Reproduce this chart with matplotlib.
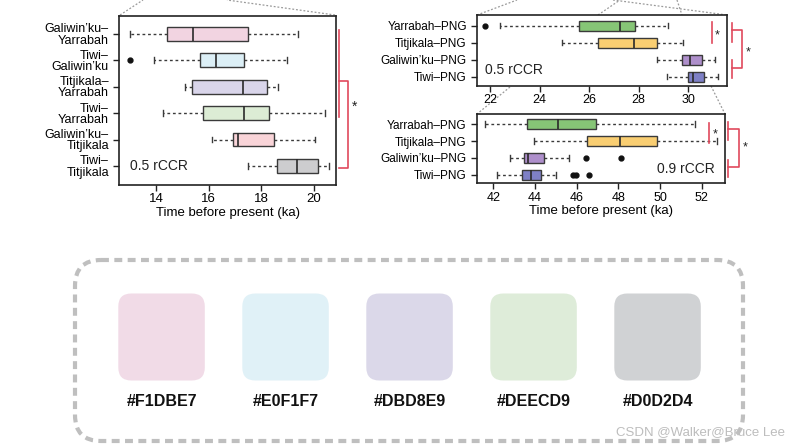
import matplotlib
matplotlib.use("Agg")
import matplotlib.pyplot as plt
from matplotlib.patches import FancyBboxPatch
from matplotlib.lines import Line2D
import matplotlib.transforms as mtransforms

plt.rcParams['font.family'] = ['Liberation Sans', 'DejaVu Sans']

# ---------------- data ----------------
left_labels = ["Galiwin’ku–\nYarrabah", "Tiwi–\nGaliwin’ku", "Titjikala–\nYarrabah",
               "Tiwi–\nYarrabah", "Galiwin’ku–\nTitjikala", "Tiwi–\nTitjikala"]
left_whislo = [12.99, 13.90, 15.10, 14.25, 16.11, 17.50]
left_q1     = [14.41, 15.67, 15.36, 15.77, 16.90, 18.58]
left_med    = [15.39, 16.28, 17.29, 17.32, 17.09, 19.34]
left_q3     = [17.50, 17.32, 18.20, 18.30, 18.48, 20.13]
left_whishi = [19.38, 18.96, 18.61, 20.42, 20.04, 20.55]
left_fliers = [[], [13.01], [], [], [], []]
left_colors = ["#F2D4E1", "#DCEFF6", "#D9D5EA", "#DCECD5", "#F9D4D8", "#CDCDCF"]
left_ticks = [14, 16, 18, 20]

png_labels = ["Yarrabah–PNG", "Titjikala–PNG", "Galiwin’ku–PNG", "Tiwi–PNG"]
png_colors = ["#86C576", "#F9CE72", "#AE8FCB", "#7E80C6"]

top_whislo = [22.40, 24.89, 28.75, 29.13]
top_q1     = [25.60, 26.37, 29.73, 29.97]
top_med    = [27.24, 27.81, 30.06, 30.20]
top_q3     = [27.85, 28.72, 30.57, 30.64]
top_whishi = [29.19, 29.80, 31.08, 31.20]
top_fliers = [[21.80], [], [], []]
top_ticks = [22, 24, 26, 28, 30]

bot_whislo = [41.60, 43.95, 42.80, 42.19]
bot_q1     = [43.60, 46.48, 43.47, 43.36]
bot_med    = [45.09, 48.08, 43.68, 43.79]
bot_q3     = [46.93, 49.87, 44.43, 44.27]
bot_whishi = [51.68, 52.72, 45.63, 44.99]
bot_fliers = [[], [], [46.43, 48.11], [45.81, 45.97, 46.61]]
bot_ticks = [42, 44, 46, 48, 50, 52]

swatch_colors = ["#F1DBE7", "#E0F1F7", "#DBD8E9", "#DEECD9", "#D0D2D4"]
swatch_labels = ["#F1DBE7", "#E0F1F7", "#DBD8E9", "#DEECD9", "#D0D2D4"]

RED = "#E0495C"
W, H = 794, 445

fig = plt.figure(figsize=(W / 100, H / 100), dpi=100)

# overlay in pixel coordinates
ov = fig.add_axes([0, 0, 1, 1])
ov.set_xlim(0, W)
ov.set_ylim(H, 0)
ov.axis('off')
ov.patch.set_alpha(0)


def px_axes(x0, y0, x1, y1):
    return fig.add_axes([x0 / W, 1 - y1 / H, (x1 - x0) / W, (y1 - y0) / H])


def make_stats(wl, q1, med, q3, wh, fl):
    return [dict(whislo=a, q1=b, med=c, q3=d, whishi=e, fliers=f)
            for a, b, c, d, e, f in zip(wl, q1, med, q3, wh, fl)]


def draw_box(ax, stats, colors, width, capw):
    pos = list(range(1, len(stats) + 1))
    bp = ax.bxp(stats, positions=pos, widths=width, orientation='horizontal',
                patch_artist=True, showfliers=True, capwidths=capw,
                boxprops=dict(edgecolor="#3a3a3a", linewidth=1.0),
                whiskerprops=dict(color="#3a3a3a", linewidth=1.0, linestyle=(0, (2, 2))),
                capprops=dict(color="#3a3a3a", linewidth=1.0),
                medianprops=dict(color="#2a2a2a", linewidth=1.2),
                flierprops=dict(marker='o', markersize=3.5, markerfacecolor='#111111',
                                markeredgecolor='#111111'))
    for patch, c in zip(bp['boxes'], colors):
        patch.set_facecolor(c)
    for s in ax.spines.values():
        s.set_linewidth(1.2)
        s.set_color("#222222")
    ax.tick_params(direction='out', length=4, width=1, color="#222222")
    return pos


# ---------------- left panel ----------------
axL = px_axes(119.3, 16, 335.7, 185)
pos = draw_box(axL, make_stats(left_whislo, left_q1, left_med, left_q3, left_whishi, left_fliers),
               left_colors, 0.52, 0.22)
axL.set_yticks(pos)
axL.set_yticklabels(left_labels, fontsize=9, linespacing=0.9)
axL.set_ylim(6.72, 0.32)
axL.set_xlim(12.6, 20.82)
axL.set_xticks(left_ticks)
axL.tick_params(axis='x', labelsize=9.5, pad=2)
axL.set_xlabel("Time before present (ka)", fontsize=9.5, labelpad=1)
axL.text(0.05, 0.07, "0.5 rCCR", transform=axL.transAxes, fontsize=10, va='bottom', ha='left',
         color="#222222")
tr = mtransforms.blended_transform_factory(axL.transAxes, axL.transData)
axL.plot([1.015, 1.015], [0.85, 4.13], color=RED, lw=1.2, transform=tr, clip_on=False)
axL.plot([1.015, 1.057, 1.057, 1.015], [2.8, 2.8, 6.08, 6.08], color=RED, lw=1.2,
         transform=tr, clip_on=False)
axL.text(1.085, 3.75, "*", transform=tr, fontsize=10, ha='center', va='center', color="#222222")

# ---------------- top right panel ----------------
axT = px_axes(477.3, 15, 726.7, 85.7)
pos = draw_box(axT, make_stats(top_whislo, top_q1, top_med, top_q3, top_whishi, top_fliers),
               png_colors, 0.6, 0.3)
axT.set_yticks(pos)
axT.set_yticklabels(png_labels, fontsize=8.5)
axT.set_ylim(4.53, 0.37)
axT.set_xlim(21.49, 31.55)
axT.set_xticks(top_ticks)
axT.tick_params(axis='x', labelsize=9, pad=2)
axT.text(0.03, 0.12, "0.5 rCCR", transform=axT.transAxes, fontsize=10, va='bottom', ha='left',
         color="#222222")
tr = mtransforms.blended_transform_factory(axT.transAxes, axT.transData)
axT.plot([0.94, 0.94], [0.76, 2.0], color=RED, lw=1.2, transform=tr, clip_on=False)
axT.text(0.962, 1.55, "*", transform=tr, fontsize=9, ha='center', va='center', color="#222222")
axT.plot([1.02, 1.02], [0.82, 1.94], color=RED, lw=1.2, transform=tr, clip_on=False)
axT.plot([1.02, 1.02], [3.04, 4.1], color=RED, lw=1.2, transform=tr, clip_on=False)
axT.plot([1.02, 1.06, 1.06, 1.02], [1.25, 1.25, 3.51, 3.51], color=RED, lw=1.2,
         transform=tr, clip_on=False)
axT.text(1.087, 2.55, "*", transform=tr, fontsize=9, ha='center', va='center', color="#222222")

# ---------------- bottom right panel ----------------
axB = px_axes(476.7, 114, 725, 183.3)
pos = draw_box(axB, make_stats(bot_whislo, bot_q1, bot_med, bot_q3, bot_whishi, bot_fliers),
               png_colors, 0.6, 0.3)
axB.set_yticks(pos)
axB.set_yticklabels(png_labels, fontsize=8.5)
axB.set_ylim(4.49, 0.41)
axB.set_xlim(41.2, 53.12)
axB.set_xticks(bot_ticks)
axB.tick_params(axis='x', labelsize=9, pad=2)
axB.set_xlabel("Time before present (ka)", fontsize=9.5, labelpad=1)
axB.text(0.96, 0.1, "0.9 rCCR", transform=axB.transAxes, fontsize=10, va='bottom', ha='right',
         color="#222222")
tr = mtransforms.blended_transform_factory(axB.transAxes, axB.transData)
axB.plot([0.937, 0.937], [0.96, 2.14], color=RED, lw=1.2, transform=tr, clip_on=False)
axB.text(0.96, 1.6, "*", transform=tr, fontsize=9, ha='center', va='center', color="#222222")
axB.plot([1.013, 1.013], [0.86, 1.94], color=RED, lw=1.2, transform=tr, clip_on=False)
axB.plot([1.013, 1.013], [3.12, 4.14], color=RED, lw=1.2, transform=tr, clip_on=False)
axB.plot([1.013, 1.055, 1.055, 1.013], [1.31, 1.31, 3.51, 3.51], color=RED, lw=1.2,
         transform=tr, clip_on=False)
axB.text(1.082, 2.35, "*", transform=tr, fontsize=9, ha='center', va='center', color="#222222")

# ---------------- zoom connector lines (pixel coords) ----------------
connectors = [((120, 15), (143, 0)), ((335, 15), (227, 0)),
              ((477, 15), (517, 0)), ((598, 15), (620, 0)),
              ((613, 0), (727, 15)), ((677, 0), (682, 15)),
              ((510, 87), (477, 114)), ((711, 86), (725, 114))]
for (x0, y0), (x1, y1) in connectors:
    ov.plot([x0, x1], [y0, y1], color="#9a9a9a", lw=0.9, linestyle=(0, (1.5, 1.5)))

# ---------------- colour palette box ----------------
frame = FancyBboxPatch((75, 260), 668, 181, boxstyle="round,pad=0,rounding_size=26",
                       fill=False, edgecolor="#BFBFBF", linewidth=3,
                       linestyle=(0, (1.9, 1.3)))
ov.add_patch(frame)
sw_x0 = 118.3
sw_step = 124
for i, (c, lab) in enumerate(zip(swatch_colors, swatch_labels)):
    x = sw_x0 + i * sw_step
    ov.add_patch(FancyBboxPatch((x, 293.5), 86.5, 87, boxstyle="round,pad=0,rounding_size=13",
                                facecolor=c, edgecolor='none'))
    ov.text(x + 43.5, 402, lab, fontsize=11.5, fontweight='bold', ha='center', va='center',
            color="#111111")

ov.text(785, 432, "CSDN @Walker@Bruce Lee", fontsize=9.5, ha='right', va='center',
        color="#BDBDBD")

fig.savefig("out.png", dpi=100)
